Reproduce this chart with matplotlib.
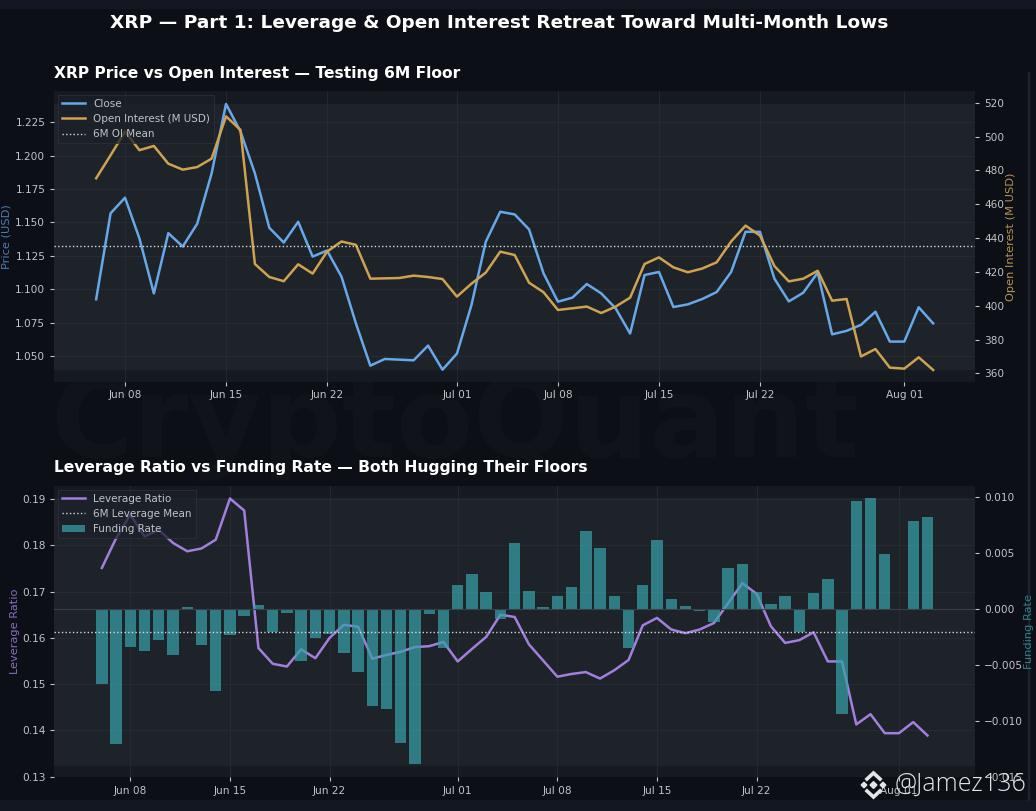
import matplotlib
matplotlib.use('Agg')
import matplotlib.pyplot as plt
import matplotlib.dates as mdates
from matplotlib.patches import Polygon, Rectangle
import pandas as pd

W, H = 1036, 811
BG = '#0c0f16'
STRIP = '#131722'
PANEL = '#151a21'
BAND = '#1e2329'
TXT = '#bfc4c9'
BLUE = '#66a8ea'
GOLD = '#cfa24f'
PURPLE = '#a27fdf'
TEAL = '#38a0a8'

dates = pd.date_range('2025-06-06', '2025-08-03', freq='D')

close = [1.0926, 1.1568, 1.1685, 1.138, 1.097, 1.142, 1.132, 1.149, 1.1866, 1.2385,
         1.218, 1.1867, 1.146, 1.135, 1.1505, 1.1245, 1.129, 1.1095, 1.0746, 1.043,
         1.048, 1.0475, 1.047, 1.058, 1.04, 1.052, 1.088, 1.1356, 1.158, 1.156,
         1.1448, 1.112, 1.0908, 1.0938, 1.104, 1.097, 1.0858, 1.067, 1.1107, 1.113,
         1.0868, 1.0888, 1.0928, 1.098, 1.113, 1.143, 1.143, 1.108, 1.091, 1.0975,
         1.1125, 1.0664, 1.069, 1.0735, 1.0833, 1.061, 1.061, 1.0866, 1.0746]

open_interest = [475.4, 489, 503, 492, 494.5, 484, 480.5, 482, 487, 512,
                 504, 424.7, 417, 414.5, 424.5, 419, 432, 438, 436, 416,
                 416.2, 416.4, 417.8, 417, 415.8, 405.4, 413, 419.6, 432, 430,
                 413.6, 408, 397.5, 398.5, 399.5, 395.7, 399.5, 404.8, 424.7, 428.6,
                 422.7, 419.8, 422, 425.7, 438, 447.4, 441.5, 423.5, 414.4, 416,
                 420.7, 403, 404, 370, 374.4, 363.4, 362.8, 369.5, 362]

leverage = [0.1751, 0.1815, 0.1866, 0.1819, 0.1833, 0.1805, 0.1787, 0.1793, 0.1812, 0.1901,
            0.1875, 0.1578, 0.1544, 0.1538, 0.1575, 0.1556, 0.16, 0.1628, 0.1624, 0.1555,
            0.1563, 0.157, 0.158, 0.1582, 0.1591, 0.1549, 0.1576, 0.1602, 0.165, 0.1645,
            0.1586, 0.1551, 0.1516, 0.1522, 0.1526, 0.1512, 0.153, 0.1552, 0.1627, 0.1643,
            0.1618, 0.161, 0.1618, 0.1632, 0.1675, 0.1718, 0.1695, 0.1625, 0.1589, 0.1595,
            0.1612, 0.1549, 0.1549, 0.1413, 0.1435, 0.1394, 0.1394, 0.1418, 0.1389]

funding = [-0.00668, -0.01205, -0.0034, -0.00379, -0.00277, -0.00408, 0.00015, -0.00319, -0.00736, -0.00236,
           -0.00063, 0.00033, -0.00209, -0.00039, -0.00468, -0.00259, -0.00224, -0.00394, -0.00564, -0.00871,
           -0.00897, -0.01196, -0.01389, -0.00048, -0.00346, 0.00209, 0.0031, 0.00155, -0.00089, 0.0059,
           0.00161, 0.00015, 0.00113, 0.00191, 0.00692, 0.00543, 0.00116, -0.00352, 0.00209, 0.00614,
           0.00086, 0.00024, -0.00018, -0.00119, 0.00367, 0.004, 0.00155, 0.00039, 0.00113, -0.00209,
           0.0014, 0.00265, -0.00936, 0.00963, 0.0099, 0.00489, 0.0, 0.00784, 0.0082]

oi_mean = 435.3
lev_mean = 0.1613


def axes_px(fig, left, top, right, bottom):
    return fig.add_axes([left / W, 1 - bottom / H, (right - left) / W, (bottom - top) / H])


def style_axis(ax):
    ax.set_facecolor(PANEL)
    for s in ax.spines.values():
        s.set_visible(False)
    ax.tick_params(colors=TXT, labelsize=7.6, length=3, width=0.8)


def style_dates(ax):
    ax.xaxis.set_major_locator(mdates.AutoDateLocator())
    ax.xaxis.set_major_formatter(mdates.DateFormatter('%b %d'))
    ax.grid(True, axis='both', color='#2b3037', linewidth=0.7, alpha=0.7)
    ax.set_axisbelow(True)


def make_legend(ax, handles):
    leg = ax.legend(handles=handles, loc='upper left', fontsize=7.5, facecolor='#1b2029',
                    edgecolor='#2c323a', framealpha=0.75, labelcolor=TXT, fancybox=False,
                    borderaxespad=0.35, handlelength=2.2)
    leg.get_frame().set_linewidth(0.7)
    return leg


fig = plt.figure(figsize=(W / 100, H / 100), dpi=100, facecolor=BG)

# page furniture behind the axes
fig.patches.append(Rectangle((0, 1 - 8 / H), 1, 8 / H, transform=fig.transFigure, color=STRIP, zorder=-3))
fig.patches.append(Rectangle((0, 0), 1, 11 / H, transform=fig.transFigure, color=STRIP, zorder=-3))
fig.patches.append(Rectangle((1028 / W, 11 / H), 1.2 / W, 728 / H, transform=fig.transFigure,
                             color='#1d2430', zorder=-3))
fig.text(455 / W, 1 - 457 / H, 'CryptoQuant', color='#10141a', fontsize=81, fontweight='bold',
         ha='center', va='baseline', zorder=-2)

fig.text(499 / W, 1 - 23 / H, 'XRP — Part 1: Leverage & Open Interest Retreat Toward Multi-Month Lows',
         color='white', fontsize=13.3, fontweight='bold', ha='center', va='center')

# price vs open interest
ax1 = axes_px(fig, 54.3, 91, 975, 382)
style_axis(ax1)
ax1.tick_params(axis='x', pad=2.5)
ax1.axhspan(1.0405, 1.2385, color=BAND, zorder=0)
line_close, = ax1.plot(dates, close, color=BLUE, linewidth=1.8, label='Close')
ax1.set_ylim(1.0308, 1.2482)
ax1.yaxis.set_major_formatter(matplotlib.ticker.FormatStrFormatter('%.3f'))
style_dates(ax1)
ax1.set_ylabel('Price (USD)', color='#4c7db5', fontsize=8.2)
ax1.yaxis.set_label_coords(-0.046, 0.5)
ax1.set_title('XRP Price vs Open Interest — Testing 6M Floor', color='white', fontsize=11.2,
              fontweight='bold', loc='left', pad=9)

ax1b = ax1.twinx()
ax1b.set_facecolor('none')
for s in ax1b.spines.values():
    s.set_visible(False)
ax1b.tick_params(colors=TXT, labelsize=7.6, length=3, width=0.8)
line_oi, = ax1b.plot(dates, open_interest, color=GOLD, linewidth=1.8, label='Open Interest (M USD)')
line_oim = ax1b.axhline(oi_mean, color='#d5d8dc', linestyle=':', linewidth=1, label='6M OI Mean')
ax1b.set_ylim(354.9, 527)
ax1b.set_ylabel('Open Interest (M USD)', color='#b8934f', fontsize=8.2, rotation=90)
ax1b.yaxis.set_label_coords(1.034, 0.5)
make_legend(ax1b, [line_close, line_oi, line_oim])

# leverage vs funding
ax2 = axes_px(fig, 54.3, 486, 975, 776.7)
style_axis(ax2)
ax2.axhspan(0.1325, 0.1901, color=BAND, zorder=0)
line_lev, = ax2.plot(dates, leverage, color=PURPLE, linewidth=1.8, label='Leverage Ratio')
ax2.set_ylim(0.13, 0.1928)
ax2.set_yticks([0.13, 0.14, 0.15, 0.16, 0.17, 0.18, 0.19])
style_dates(ax2)
ax2.set_ylabel('Leverage Ratio', color='#8a6cc0', fontsize=8.2)
ax2.yaxis.set_label_coords(-0.037, 0.5)
ax2.set_title('Leverage Ratio vs Funding Rate — Both Hugging Their Floors', color='white', fontsize=11.2,
              fontweight='bold', loc='left', pad=10)

ax2b = ax2.twinx()
ax2b.set_facecolor('none')
for s in ax2b.spines.values():
    s.set_visible(False)
ax2b.tick_params(colors=TXT, labelsize=7.6, length=3, width=0.8)
bars = ax2b.bar(dates, funding, width=0.8, color=TEAL, alpha=0.72, label='Funding Rate')
ax2b.axhline(0, color='#3a4047', linewidth=0.8)
line_levm, = ax2b.plot([0, 1], [lev_mean, lev_mean], transform=ax2.get_yaxis_transform(),
                       color='#d5d8dc', linestyle=':', linewidth=1, label='6M Leverage Mean')
ax2b.set_ylim(-0.015, 0.01098)
ax2b.set_yticks([-0.015, -0.01, -0.005, 0, 0.005, 0.01])
ax2b.set_ylabel('Funding Rate', color='#2f8087', fontsize=8.2)
ax2b.yaxis.set_label_coords(1.053, 0.5)
make_legend(ax2b, [line_lev, line_levm, bars])

# repost watermark with diamond logo, drawn in pixel space
over = fig.add_axes([0, 0, 1, 1], facecolor='none')
over.set_xlim(0, W)
over.set_ylim(H, 0)
over.axis('off')
mark = '#e3e6e6'
cx, cy = 873.5, 785
for dx, dy, r in [(0, 0, 3.4), (-9.5, 0, 2.8), (9.5, 0, 2.8)]:
    over.add_patch(Polygon([(cx + dx - r, cy + dy), (cx + dx, cy + dy - r),
                            (cx + dx + r, cy + dy), (cx + dx, cy + dy + r)], color=mark))
for sign in (-1, 1):
    over.plot([cx - 6.5, cx, cx + 6.5], [cy + sign * 6, cy + sign * 12, cy + sign * 6],
              color=mark, linewidth=2.6, solid_joinstyle='miter')
over.text(1026, 784, '@Jamez136', color=mark, fontsize=18, family='Open Sans', fontweight='light',
          ha='right', va='center')

fig.savefig('out.png', dpi=100, facecolor=BG)
